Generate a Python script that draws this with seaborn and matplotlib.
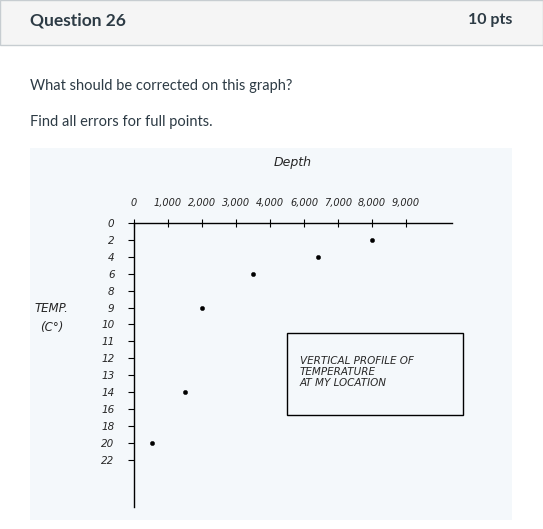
import matplotlib.pyplot as plt
import matplotlib.patches as mpatches
import seaborn as sns
import pandas as pd

# hand-drawn axis labels (ticks are evenly spaced on paper, values are not)
depth_labels = ['0', '1,000', '2,000', '3,000', '4,000', '6,000', '7,000', '8,000', '9,000']
temp_labels = ['0', '2', '4', '6', '8', '9', '10', '11', '12', '13', '14', '16', '18', '20', '22']

# points, in tick-position units as drawn
depth_pos = [0.53, 1.5, 2.0, 3.5, 5.4, 7.0]
temp_pos = [13, 10, 5, 3, 2, 1]

df = pd.DataFrame({'depth': depth_pos, 'temp': temp_pos})

sns.set_style('white')
plt.rcParams['font.family'] = ['Lato', 'DejaVu Sans']

W, H = 543, 529
fig = plt.figure(figsize=(W / 100, H / 100), dpi=100)

# header bar
fig.patches.append(mpatches.Rectangle((0, 1 - 45 / H), 1, 45 / H, transform=fig.transFigure,
                                      facecolor='#f5f5f5', edgecolor='#c7cdd1', lw=1, zorder=-2))
fig.text(30 / W, 1 - 20 / H, 'Question 26', fontsize=12.5, fontweight='bold', color='#2d3b45', va='center')
fig.text(512 / W, 1 - 20 / H, '10 pts', fontsize=11.5, fontweight='bold', color='#2d3b45', va='center', ha='right')
fig.text(30 / W, 1 - 86 / H, 'What should be corrected on this graph?', fontsize=10.5, color='#2d3b45', va='center')
fig.text(30 / W, 1 - 122 / H, 'Find all errors for full points.', fontsize=10.5, color='#2d3b45', va='center')

# scanned paper background
fig.patches.append(mpatches.Rectangle((30 / W, 1 - 520 / H), 482 / W, 372 / H, transform=fig.transFigure,
                                      facecolor='#f4f8fb', edgecolor='none', zorder=-2))

x0, x1, y0, y1 = 134, 452, 223, 507
ax = fig.add_axes([x0 / W, 1 - y1 / H, (x1 - x0) / W, (y1 - y0) / H])
ax.set_facecolor('none')
sns.scatterplot(data=df, x='depth', y='temp', ax=ax, color='black', s=10, edgecolor='black', legend=False)

ax.set_xlim(0, 9.35)
ax.set_ylim(16.8, 0)
for s in ['right', 'bottom']:
    ax.spines[s].set_visible(False)
ax.spines['top'].set_linewidth(1.0)
ax.spines['left'].set_linewidth(1.0)
ax.spines['top'].set_color('black')
ax.spines['left'].set_color('black')
ax.xaxis.tick_top()
ax.set_xticks(range(len(depth_labels)))
ax.set_xticklabels(depth_labels, fontsize=7, style='italic', family='DejaVu Sans')
ax.set_yticks(range(len(temp_labels)))
ax.set_yticklabels(temp_labels, fontsize=7.5, style='italic', family='DejaVu Sans')
ax.tick_params(axis='x', top=True, direction='inout', length=6, pad=8, color='black')
ax.tick_params(axis='y', left=True, direction='out', length=4, pad=10, color='black')
ax.set_xlabel('')
ax.set_ylabel('')
ax.text(0.5, 1.2, 'Depth', transform=ax.transAxes, ha='center', fontsize=9, style='italic', family='DejaVu Sans')
ax.text(-0.26, 0.665, 'TEMP.\n(C°)', transform=ax.transAxes, ha='center', va='center',
        fontsize=8.5, style='italic', family='DejaVu Sans', linespacing=1.6)

# annotation box
ax.add_patch(mpatches.Rectangle(((287 - x0) / (x1 - x0), 1 - (415 - y0) / (y1 - y0)),
                                (463 - 287) / (x1 - x0), (415 - 333) / (y1 - y0),
                                transform=ax.transAxes, fill=False, edgecolor='black', lw=1, clip_on=False))
ax.text((300 - x0) / (x1 - x0), 1 - (372 - y0) / (y1 - y0),
        'VERTICAL PROFILE OF\nTEMPERATURE\nAT MY LOCATION', transform=ax.transAxes,
        va='center', ha='left', fontsize=7.5, style='italic', family='DejaVu Sans', linespacing=1.1)

fig.savefig('out.png', dpi=100)
